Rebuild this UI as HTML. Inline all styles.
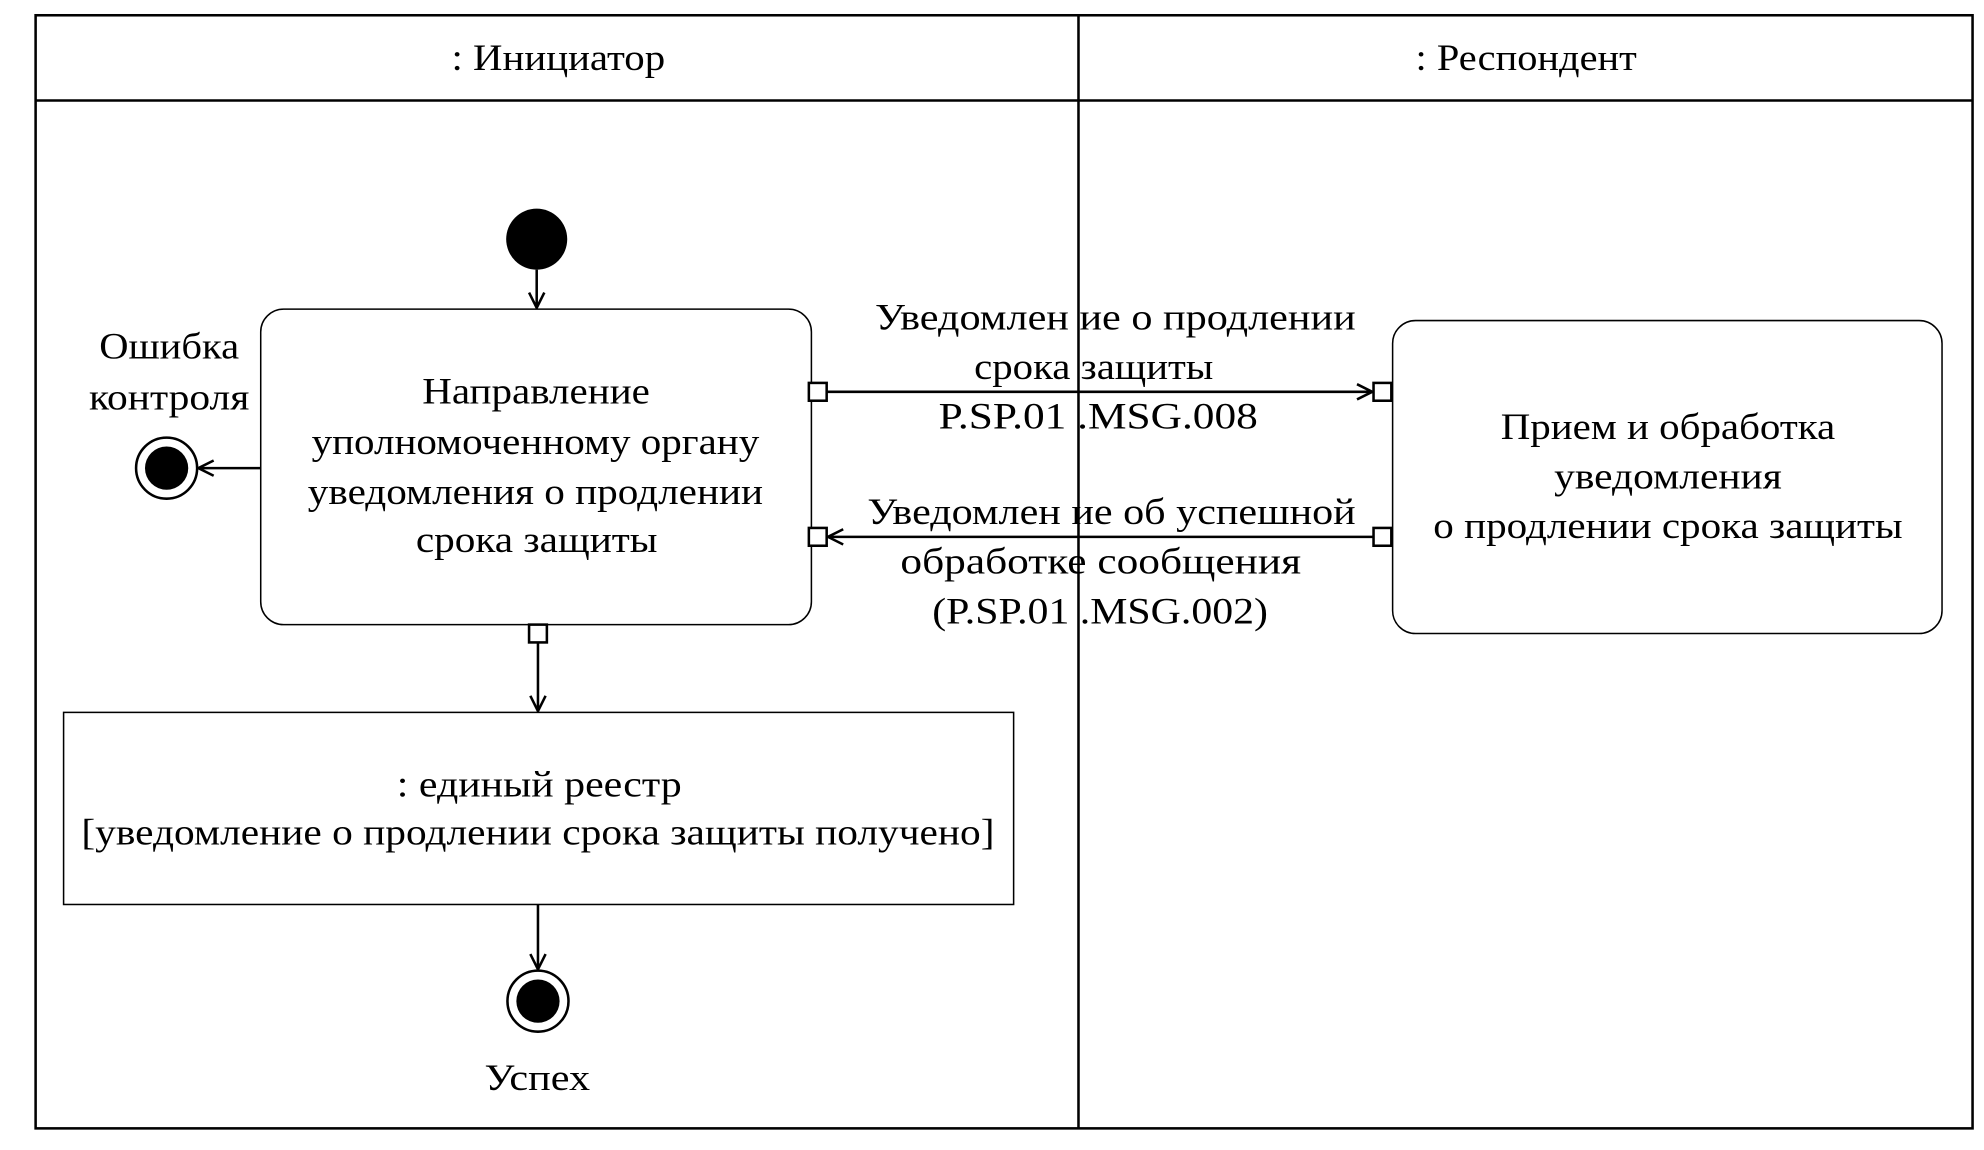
<!DOCTYPE html>
<html><head><meta charset="utf-8"><style>html,body{margin:0;padding:0;background:#fff}svg{display:block}</style></head><body>
<svg width="1984" height="1150" viewBox="0 0 1560 904" preserveAspectRatio="none" xmlns="http://www.w3.org/2000/svg" font-family="Liberation Serif, serif" font-size="29" fill="#000">
<defs><marker id="a" markerWidth="14" markerHeight="14" refX="13" refY="7" orient="auto" markerUnits="userSpaceOnUse"><path d="M1,1 L13,7 L1,13" fill="none" stroke="#000" stroke-width="2"/></marker></defs>
<g fill="none" stroke="#000" stroke-width="2">
<rect x="28" y="12" width="1523" height="875"/>
<line x1="28" y1="79" x2="1551" y2="79"/>
<line x1="848" y1="12" x2="848" y2="887"/>
<rect x="205" y="243" width="433" height="248" rx="18" stroke-width="1.2"/>
<rect x="1095" y="252" width="432" height="246" rx="18" stroke-width="1.2"/>
<rect x="50" y="560" width="747" height="151" stroke-width="1.2"/>
<line x1="422" y1="212" x2="422" y2="242" marker-end="url(#a)"/>
<line x1="205" y1="368" x2="156" y2="368" marker-end="url(#a)"/>
<line x1="650" y1="308" x2="1079" y2="308" marker-end="url(#a)"/>
<line x1="1080" y1="422" x2="651" y2="422" marker-end="url(#a)"/>
<line x1="423" y1="505" x2="423" y2="559" marker-end="url(#a)"/>
<line x1="423" y1="711" x2="423" y2="762" marker-end="url(#a)"/>
<circle cx="131" cy="368" r="24"/>
<circle cx="423" cy="787" r="24"/>
<rect x="636" y="301" width="14" height="14" fill="#fff"/>
<rect x="1080" y="301" width="14" height="14" fill="#fff"/>
<rect x="636" y="415" width="14" height="14" fill="#fff"/>
<rect x="1080" y="415" width="14" height="14" fill="#fff"/>
<rect x="416" y="491" width="14" height="14" fill="#fff"/>
</g>
<circle cx="422" cy="188" r="24"/>
<circle cx="131" cy="368" r="17"/>
<circle cx="423" cy="787" r="17"/>
<g lengthAdjust="spacingAndGlyphs" xml:space="preserve">
<text x="355" y="55" textLength="168" lengthAdjust="spacingAndGlyphs">: Инициатор</text>
<text x="1113" y="55" textLength="174" lengthAdjust="spacingAndGlyphs">: Респондент</text>
<text x="78" y="282" textLength="110" lengthAdjust="spacingAndGlyphs">Ошибка</text>
<text x="70" y="322" textLength="126" lengthAdjust="spacingAndGlyphs">контроля</text>
<text x="332" y="317" textLength="179" lengthAdjust="spacingAndGlyphs">Направление</text>
<text x="245" y="357" textLength="352" lengthAdjust="spacingAndGlyphs">уполномоченному органу</text>
<text x="242" y="396" textLength="358" lengthAdjust="spacingAndGlyphs">уведомления о продлении</text>
<text x="327" y="434" textLength="190" lengthAdjust="spacingAndGlyphs">срока защиты</text>
<text x="1180" y="345" textLength="263" lengthAdjust="spacingAndGlyphs">Прием и обработка</text>
<text x="1222" y="384" textLength="179" lengthAdjust="spacingAndGlyphs">уведомления</text>
<text x="1127" y="423" textLength="369" lengthAdjust="spacingAndGlyphs">о продлении срока защиты</text>
<text x="688" y="259" textLength="378" lengthAdjust="spacingAndGlyphs">Уведомлен  ие о продлении</text>
<text x="766" y="298" textLength="188" lengthAdjust="spacingAndGlyphs">срока защиты</text>
<text x="738" y="337" textLength="251" lengthAdjust="spacingAndGlyphs">P.SP.01  .MSG.008</text>
<text x="682" y="412" textLength="384" lengthAdjust="spacingAndGlyphs">Уведомлен  ие об успешной</text>
<text x="708" y="451" textLength="315" lengthAdjust="spacingAndGlyphs">обработке   сообщения</text>
<text x="733" y="490" textLength="264" lengthAdjust="spacingAndGlyphs">(P.SP.01  .MSG.002)</text>
<text x="312" y="626" textLength="224" lengthAdjust="spacingAndGlyphs">: единый  реестр</text>
<text x="64" y="664" textLength="718" lengthAdjust="spacingAndGlyphs">[уведомление о продлении срока защиты  получено]</text>
<text x="381" y="857" textLength="83" lengthAdjust="spacingAndGlyphs">Успех</text>
</g>
</svg>
</body></html>
